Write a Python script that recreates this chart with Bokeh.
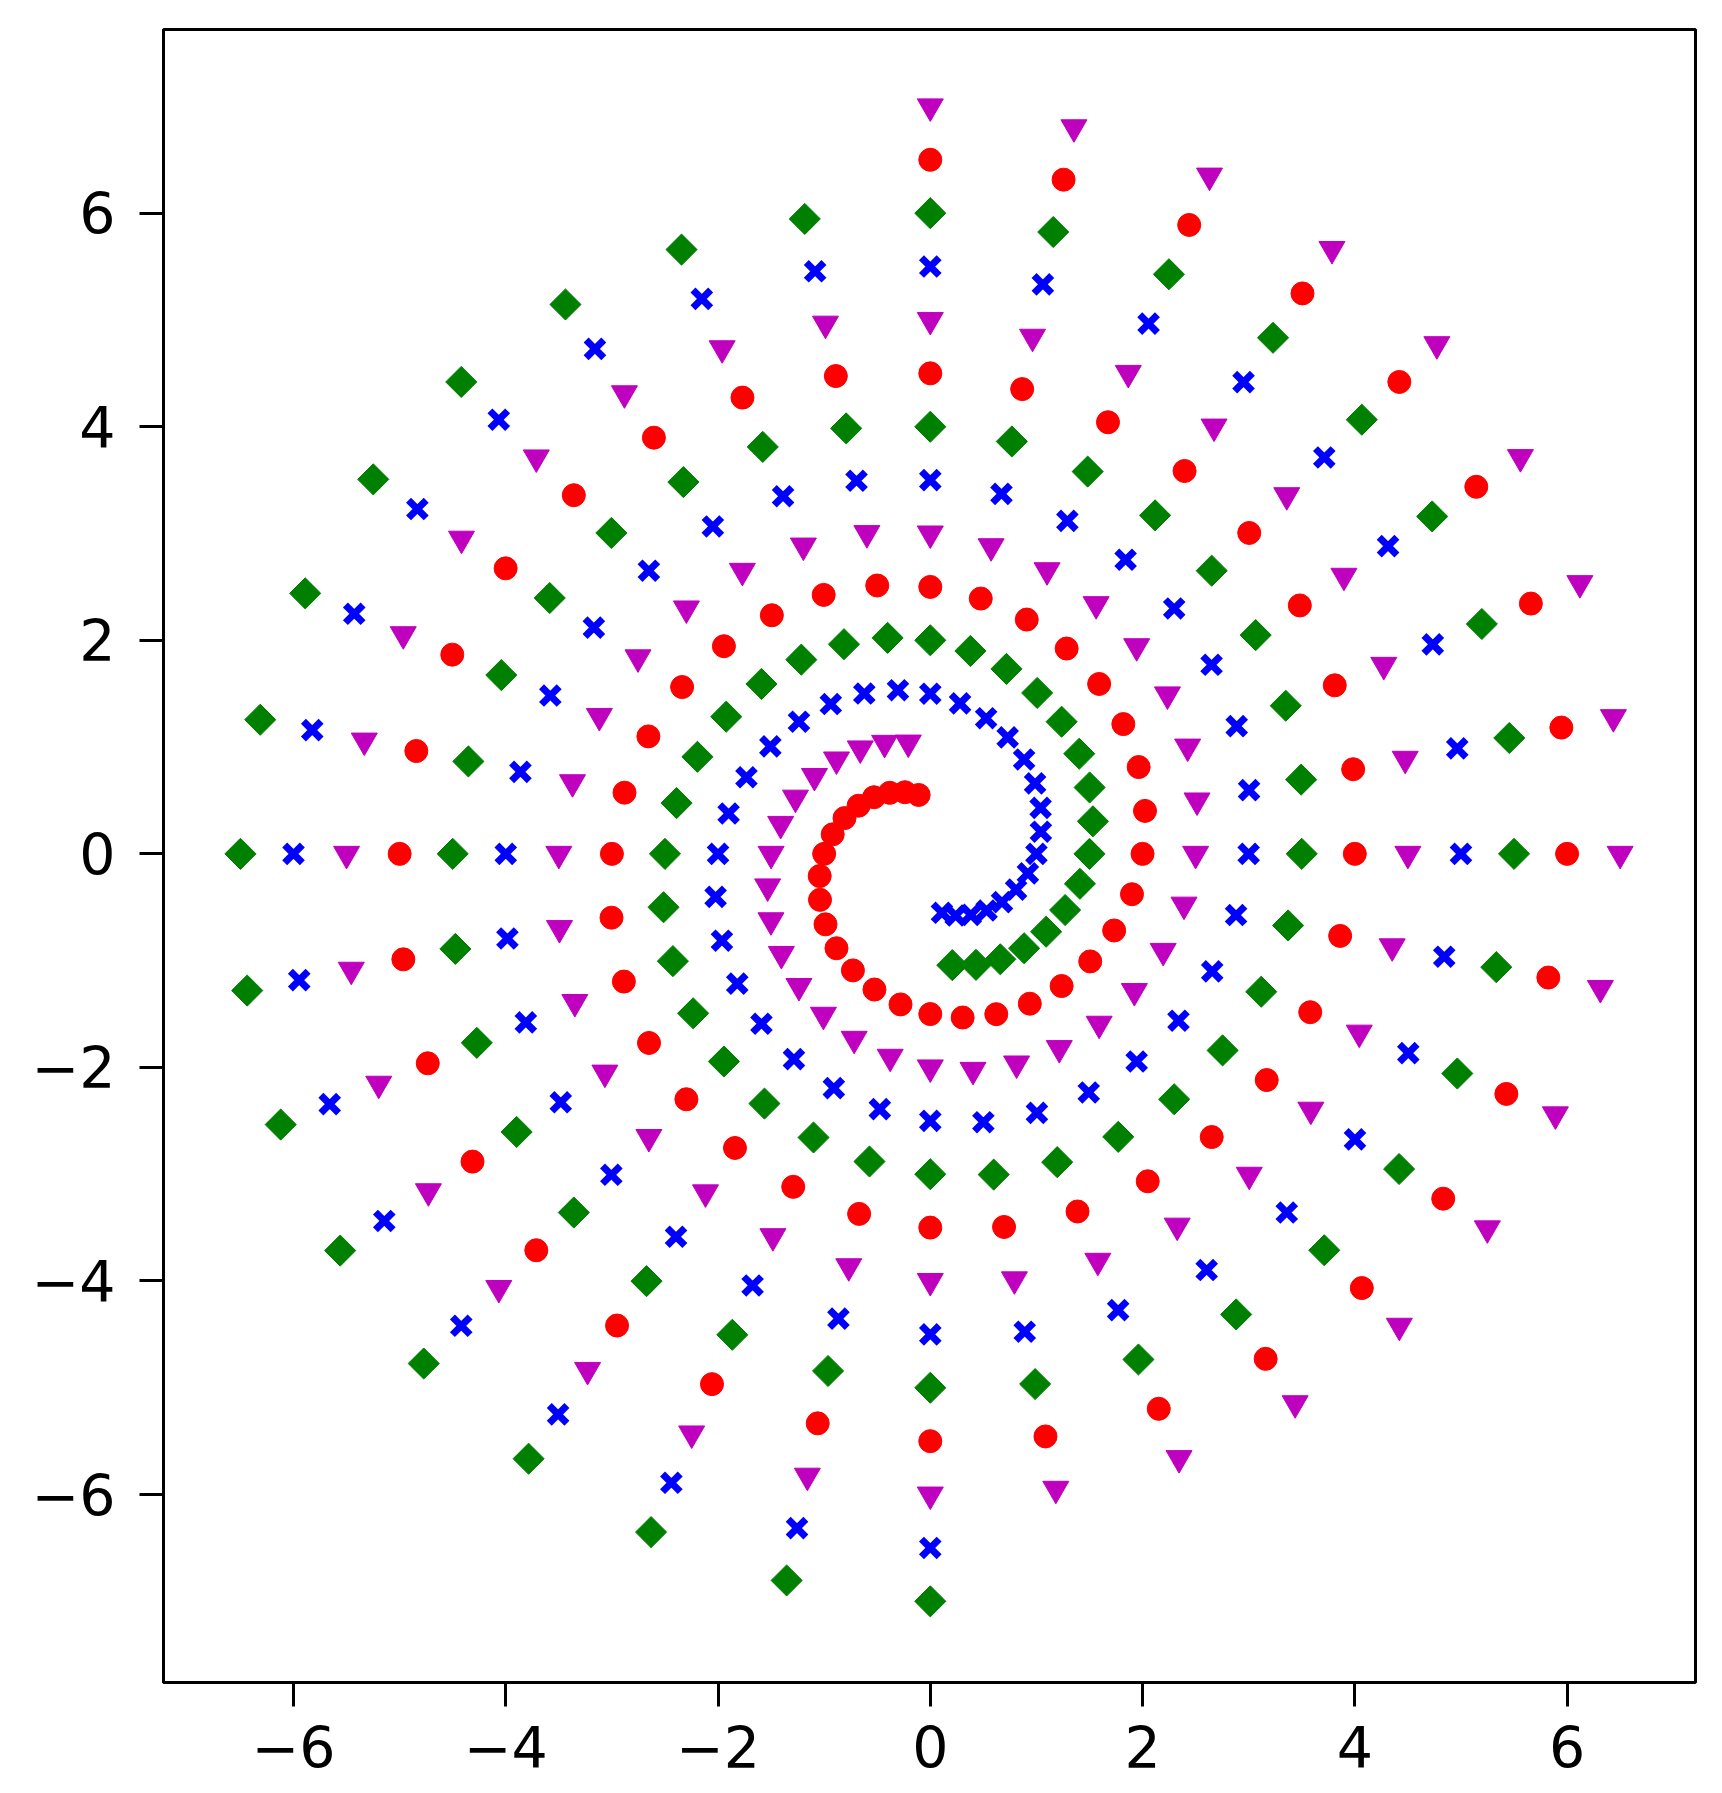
import numpy as np
from bokeh.plotting import figure
from bokeh.models import Range1d, FixedTicker
from bokeh.embed import file_html
from bokeh.resources import INLINE

# Polar angles (degrees) of the points of the red and magenta spirals
theta_red_magenta = [
    101.25, 112.5, 123.75, 135, 146.25, 157.5, 168.75, 180,
    191.25, 202.5, 213.75, 225, 236.25, 247.5, 258.75, 270,
    281.25, 292.5, 303.75, 315, 326.25, 337.5, 348.75, 360,
    371.25, 382.5, 393.75, 405, 416.25, 427.5, 438.75, 450,
    461.25, 472.5, 483.75, 495, 506.25, 517.5, 528.75, 540,
    551.25, 562.5, 573.75, 585, 596.25, 607.5, 618.75, 630,
    641.25, 652.5, 663.75, 675, 686.25, 697.5, 708.75, 720,
    731.25, 742.5, 753.75, 765, 776.25, 787.5, 798.75, 810,
    821.25, 832.5, 843.75, 855, 866.25, 877.5, 888.75, 900,
    911.25, 922.5, 933.75, 945, 956.25, 967.5, 978.75, 990,
    1001.25, 1012.5, 1023.75, 1035, 1046.25, 1057.5, 1068.75, 1080,
    1091.25, 1102.5, 1113.75, 1125, 1136.25, 1147.5, 1158.75, 1170,
]

# Polar angles (degrees) of the points of the blue and green spirals
theta_blue_green = [
    -78.75, -67.5, -56.25, -45, -33.75, -22.5, -11.25, 0,
    11.25, 22.5, 33.75, 45, 56.25, 67.5, 78.75, 90,
    101.25, 112.5, 123.75, 135, 146.25, 157.5, 168.75, 180,
    191.25, 202.5, 213.75, 225, 236.25, 247.5, 258.75, 270,
    281.25, 292.5, 303.75, 315, 326.25, 337.5, 348.75, 360,
    371.25, 382.5, 393.75, 405, 416.25, 427.5, 438.75, 450,
    461.25, 472.5, 483.75, 495, 506.25, 517.5, 528.75, 540,
    551.25, 562.5, 573.75, 585, 596.25, 607.5, 618.75, 630,
    641.25, 652.5, 663.75, 675, 686.25, 697.5, 708.75, 720,
    731.25, 742.5, 753.75, 765, 776.25, 787.5, 798.75, 810,
    821.25, 832.5, 843.75, 855, 866.25, 877.5, 888.75, 900,
    911.25, 922.5, 933.75, 945, 956.25, 967.5, 978.75, 990,
]

# Radii of the red and blue spirals
r_red_blue = [
    0.5625, 0.625, 0.6875, 0.75, 0.8125, 0.875, 0.9375, 1.0,
    1.0625, 1.125, 1.1875, 1.25, 1.3125, 1.375, 1.4375, 1.5,
    1.5625, 1.625, 1.6875, 1.75, 1.8125, 1.875, 1.9375, 2.0,
    2.0625, 2.125, 2.1875, 2.25, 2.3125, 2.375, 2.4375, 2.5,
    2.5625, 2.625, 2.6875, 2.75, 2.8125, 2.875, 2.9375, 3.0,
    3.0625, 3.125, 3.1875, 3.25, 3.3125, 3.375, 3.4375, 3.5,
    3.5625, 3.625, 3.6875, 3.75, 3.8125, 3.875, 3.9375, 4.0,
    4.0625, 4.125, 4.1875, 4.25, 4.3125, 4.375, 4.4375, 4.5,
    4.5625, 4.625, 4.6875, 4.75, 4.8125, 4.875, 4.9375, 5.0,
    5.0625, 5.125, 5.1875, 5.25, 5.3125, 5.375, 5.4375, 5.5,
    5.5625, 5.625, 5.6875, 5.75, 5.8125, 5.875, 5.9375, 6.0,
    6.0625, 6.125, 6.1875, 6.25, 6.3125, 6.375, 6.4375, 6.5,
]

# Radii of the green and magenta spirals
r_green_magenta = [
    1.0625, 1.125, 1.1875, 1.25, 1.3125, 1.375, 1.4375, 1.5,
    1.5625, 1.625, 1.6875, 1.75, 1.8125, 1.875, 1.9375, 2.0,
    2.0625, 2.125, 2.1875, 2.25, 2.3125, 2.375, 2.4375, 2.5,
    2.5625, 2.625, 2.6875, 2.75, 2.8125, 2.875, 2.9375, 3.0,
    3.0625, 3.125, 3.1875, 3.25, 3.3125, 3.375, 3.4375, 3.5,
    3.5625, 3.625, 3.6875, 3.75, 3.8125, 3.875, 3.9375, 4.0,
    4.0625, 4.125, 4.1875, 4.25, 4.3125, 4.375, 4.4375, 4.5,
    4.5625, 4.625, 4.6875, 4.75, 4.8125, 4.875, 4.9375, 5.0,
    5.0625, 5.125, 5.1875, 5.25, 5.3125, 5.375, 5.4375, 5.5,
    5.5625, 5.625, 5.6875, 5.75, 5.8125, 5.875, 5.9375, 6.0,
    6.0625, 6.125, 6.1875, 6.25, 6.3125, 6.375, 6.4375, 6.5,
    6.5625, 6.625, 6.6875, 6.75, 6.8125, 6.875, 6.9375, 7.0,
]

tick_values = [-6, -4, -2, 0, 2, 4, 6]
tick_labels = ["\u22126", "\u22124", "\u22122", "0", "2", "4", "6"]


def to_xy(r, deg):
    r = np.asarray(r, dtype=float)
    t = np.deg2rad(np.asarray(deg, dtype=float))
    return r * np.cos(t), r * np.sin(t)


p = figure(
    frame_width=1532, frame_height=1653,
    x_range=Range1d(-7.225, 7.21), y_range=Range1d(-7.76, 7.72),
    output_backend="svg", toolbar_location=None,
    min_border_left=163, min_border_top=29, min_border_right=15, min_border_bottom=105,
    background_fill_color="white", border_fill_color="white",
)
p.grid.visible = False
p.outline_line_color = "black"
p.outline_line_width = 3
p.outline_line_alpha = 1.0

for ax in (p.xaxis[0], p.yaxis[0]):
    ax.ticker = FixedTicker(ticks=tick_values)
    ax.major_label_overrides = dict(zip(tick_values, tick_labels))
    ax.minor_tick_line_color = None
    ax.major_tick_in = 0
    ax.major_tick_out = 24
    ax.major_tick_line_width = 3
    ax.major_tick_line_color = "black"
    ax.axis_line_width = 3
    ax.axis_line_color = "black"
    ax.major_label_text_font = "DejaVu Sans"
    ax.major_label_text_font_size = "57px"
    ax.major_label_text_color = "#000000"
p.xaxis[0].major_label_standoff = 19
p.yaxis[0].major_label_standoff = 24

# red circles
x, y = to_xy(r_red_blue, theta_red_magenta)
p.scatter(x, y, marker="circle", size=23, fill_color="#ff0000", line_color="#ff0000", line_width=1)

# green diamonds
x, y = to_xy(r_green_magenta, theta_blue_green)
p.scatter(x, y, marker="square", angle=np.pi / 4, size=22, fill_color="#008000", line_color="#008000", line_width=1)

# blue filled X
x, y = to_xy(r_red_blue, theta_blue_green)
p.scatter(x, y, marker="x", size=25, line_color="#0000ff", line_width=7)

# magenta down triangles
x, y = to_xy(r_green_magenta, theta_red_magenta)
p.scatter(x, y, marker="inverted_triangle", size=26, fill_color="#bf00bf", line_color="#bf00bf", line_width=1)

open("out.html", "w").write(file_html(p, INLINE))
